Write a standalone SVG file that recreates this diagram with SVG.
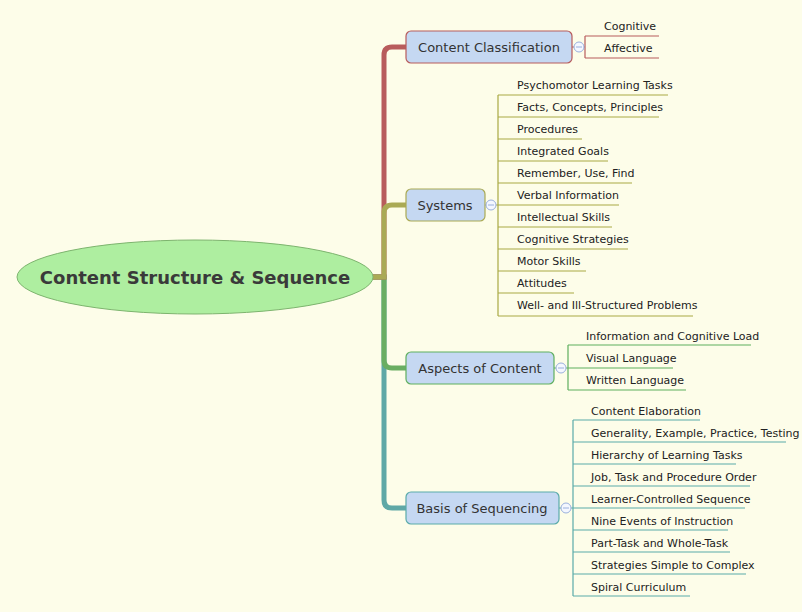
<svg xmlns="http://www.w3.org/2000/svg" width="802" height="612" viewBox="0 0 802 612">
<style>
.leaf{font-family:"DejaVu Sans",sans-serif;font-size:11px;fill:#222}
.nt{font-family:"DejaVu Sans",sans-serif;font-size:13px;fill:#333}
.node{fill:#c5d8f2;stroke-width:1.2}
.col{fill:#f4f7ff;stroke:#9ab0dd;stroke-width:1}
.ln{fill:none;stroke-width:1.2}
.br{fill:none;stroke-width:5;stroke-linecap:butt}
</style>
<rect width="802" height="612" fill="#fdfde9"/>
<g id="connectors">
<path class="br" stroke="#5fa8a6" d="M373,277 H384 V500 Q384,508 392,508 H406"/>
<path class="br" stroke="#6aae62" stroke-width="3" d="M373,277 H384 V360 Q384,368 392,368 H406"/>
<path class="br" stroke="#b85c5c" d="M373,277 H384 V55 Q384,47 392,47 H406"/>
<path class="br" stroke="#aaaa55" d="M373,277 H384 V213 Q384,205 392,205 H406"/>
<g class="ln" stroke="#b85c5c">
<path d="M585,47 H572 M585,36 V58 M585,36 H659 M585,58 H659"/>
</g>
<g class="ln" stroke="#aaaa44">
<path d="M498,205 H485 M498,95 V316"/>
<path d="M498,95H668 M498,117H659 M498,139H582 M498,161H608 M498,183H632 M498,205H619 M498,227H612 M498,249H628 M498,271H586 M498,293H574 M498,316H693"/>
</g>
<g class="ln" stroke="#5faf5f">
<path d="M568,368 H554 M568,345 V390 M568,345H751 M568,368H673 M568,390H686"/>
</g>
<g class="ln" stroke="#5aabaa">
<path d="M573,508 H559 M573,420 V596"/>
<path d="M573,420H700 M573,442H786 M573,464H736 M573,486H750 M573,508H745 M573,530H728 M573,552H730 M573,574H746 M573,596H690"/>
</g>
</g>
<g id="center">
<ellipse cx="195" cy="277" rx="178" ry="37" fill="#aeeea0" stroke="#7db46e" stroke-width="1"/>
<text x="195" y="284" text-anchor="middle" font-family="DejaVu Sans,sans-serif" font-size="18" font-weight="bold" fill="#3a3a3a">Content Structure &amp; Sequence</text>
</g>
<g id="n-classification">
<rect class="node" x="406" y="31" width="166" height="32" rx="5" stroke="#b85c5c"/>
<text class="nt" x="489" y="52" text-anchor="middle">Content Classification</text>
<circle class="col" cx="579" cy="47" r="5"/><path d="M576,47H582" stroke="#9ab0dd"/>
<text class="leaf" x="604" y="30">Cognitive</text>
<text class="leaf" x="604" y="52">Affective</text>
</g>
<g id="n-systems">
<rect class="node" x="406" y="189" width="79" height="32" rx="5" stroke="#aaaa55"/>
<text class="nt" x="445" y="210" text-anchor="middle">Systems</text>
<circle class="col" cx="491" cy="205" r="5"/><path d="M488,205H494" stroke="#9ab0dd"/>
<text class="leaf" x="517" y="89">Psychomotor Learning Tasks</text>
<text class="leaf" x="517" y="111">Facts, Concepts, Principles</text>
<text class="leaf" x="517" y="133">Procedures</text>
<text class="leaf" x="517" y="155">Integrated Goals</text>
<text class="leaf" x="517" y="177">Remember, Use, Find</text>
<text class="leaf" x="517" y="199">Verbal Information</text>
<text class="leaf" x="517" y="221">Intellectual Skills</text>
<text class="leaf" x="517" y="243">Cognitive Strategies</text>
<text class="leaf" x="517" y="265">Motor Skills</text>
<text class="leaf" x="517" y="287">Attitudes</text>
<text class="leaf" x="517" y="309">Well- and Ill-Structured Problems</text>
</g>
<g id="n-aspects">
<rect class="node" x="406" y="352" width="148" height="32" rx="5" stroke="#5faf5f"/>
<text class="nt" x="480" y="373" text-anchor="middle">Aspects of Content</text>
<circle class="col" cx="561" cy="368" r="5"/><path d="M558,368H564" stroke="#9ab0dd"/>
<text class="leaf" x="586" y="340">Information and Cognitive Load</text>
<text class="leaf" x="586" y="362">Visual Language</text>
<text class="leaf" x="586" y="384">Written Language</text>
</g>
<g id="n-basis">
<rect class="node" x="406" y="492" width="153" height="32" rx="5" stroke="#5aabaa"/>
<text class="nt" x="482" y="513" text-anchor="middle">Basis of Sequencing</text>
<circle class="col" cx="566" cy="508" r="5"/><path d="M563,508H569" stroke="#9ab0dd"/>
<text class="leaf" x="591" y="415">Content Elaboration</text>
<text class="leaf" x="591" y="437">Generality, Example, Practice, Testing</text>
<text class="leaf" x="591" y="459">Hierarchy of Learning Tasks</text>
<text class="leaf" x="591" y="481">Job, Task and Procedure Order</text>
<text class="leaf" x="591" y="503">Learner-Controlled Sequence</text>
<text class="leaf" x="591" y="525">Nine Events of Instruction</text>
<text class="leaf" x="591" y="547">Part-Task and Whole-Task</text>
<text class="leaf" x="591" y="569">Strategies Simple to Complex</text>
<text class="leaf" x="591" y="591">Spiral Curriculum</text>
</g>
</svg>
